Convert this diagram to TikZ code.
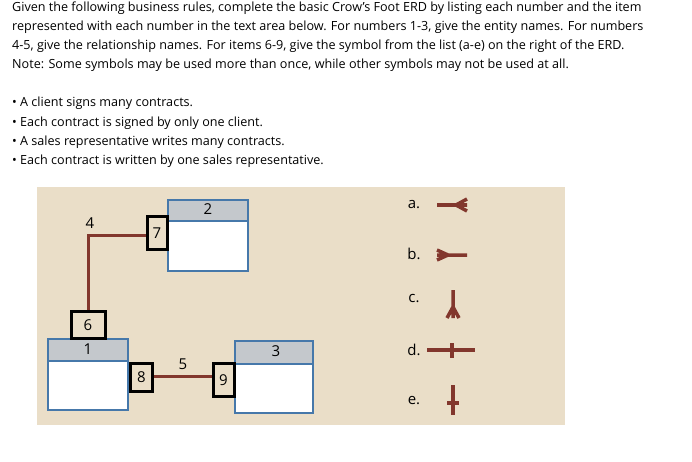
\documentclass[tikz,border=0pt]{standalone}
\usepackage{fontspec}
\setmainfont{Open Sans}
\begin{document}
\begin{tikzpicture}[x=1pt,y=-1pt,
  txt/.style={anchor=west,inner sep=0,font=\fontsize{12.6}{14}\selectfont},
  hdr/.style={draw={rgb,255:red,70;green,120;blue,170},fill={rgb,255:red,196;green,200;blue,204},line width=2pt},
  bodyb/.style={draw={rgb,255:red,70;green,120;blue,170},fill=white,line width=2pt},
  lbl/.style={draw=black,line width=3pt,fill=none,inner sep=0,font=\fontsize{15}{16}\selectfont},
  num/.style={font=\fontsize{15}{16}\selectfont,inner sep=0},
  rel/.style={draw={rgb,255:red,130;green,55;blue,45},line width=3pt},
  sym/.style={draw={rgb,255:red,130;green,55;blue,45},line width=3.5pt}]
\useasboundingbox (0,0) rectangle (692,462);
\fill[white] (0,0) rectangle (692,462);
\node[txt] (t1) at (12,8) {Given the following business rules, complete the basic Crow's Foot ERD by listing each number and the item};
\node[txt] (t2) at (12,27) {represented with each number in the text area below.  For numbers 1-3, give the entity names. For numbers};
\node[txt] (t3) at (12,46) {4-5, give the relationship names.  For items 6-9, give the symbol from the list (a-e) on the right of the ERD.};
\node[txt] (t4) at (12,65) {Note: Some symbols may be used more than once, while other symbols may not be used at all.};
\node[txt] (b1) at (12,103) {\textbullet\ A client signs many contracts.};
\node[txt] (b2) at (12,123) {\textbullet\ Each contract is signed by only one client.};
\node[txt] (b3) at (12,142) {\textbullet\ A sales representative writes many contracts.};
\node[txt] (b4) at (12,161) {\textbullet\ Each contract is written by one sales representative.};
\fill[fill={rgb,255:red,234;green,222;blue,200}] (37,187) rectangle (565,425);
% entities
\draw[bodyb] (168,221) rectangle (248,271);
\draw[hdr] (168,200) rectangle (248,221);
\node[num] (e2) at (208,209) {2};
\draw[bodyb] (48,361) rectangle (128,410);
\draw[hdr] (48,339) rectangle (128,361);
\node[num] (e1) at (88,349) {1};
\draw[bodyb] (235,364) rectangle (313,413);
\draw[hdr] (235,341) rectangle (313,364);
\node[num] (e3) at (276,351) {3};
% connectors
\node[lbl,minimum width=20pt,minimum height=33pt] (n7) at (157,233) {7};
\node[lbl,minimum width=34pt,minimum height=27pt] (n6) at (88,325) {6};
\node[lbl,minimum width=22pt,minimum height=28pt] (n8) at (141.5,377.5) {8};
\node[lbl,minimum width=21pt,minimum height=33pt] (n9) at (223.5,380) {9};
\coordinate (c4) at (88,235);
\draw[rel] (n6.north) -- (c4) -- (n7.west |- c4);
\draw[rel] (n8.east |- 0,376) -- (n9.west |- 0,376);
\node[num] (r4) at (90,223) {4};
\node[num] (r5) at (183,364) {5};
% symbols
\node[num] (la) at (414,205) {a.};
\node[num] (lb) at (414,254) {b.};
\node[num] (lc) at (414,299) {c.};
\node[num] (ld) at (414,350) {d.};
\node[num] (le) at (414,401) {e.};
\draw[sym] (437,205) -- (467,205) (456,205) -- (467,199) (456,205) -- (467,211);
\draw[sym] (437,255) -- (467,255) (448,255) -- (437,250) (448,255) -- (437,260);
\draw[sym] (453,290) -- (453,318) (453,307) -- (447,318) (453,307) -- (459,318);
\draw[sym] (427,350) -- (475,350) (452,343) -- (452,358);
\draw[sym] (453,385) -- (453,415) (447,403) -- (459,403);
\end{tikzpicture}
\end{document}
